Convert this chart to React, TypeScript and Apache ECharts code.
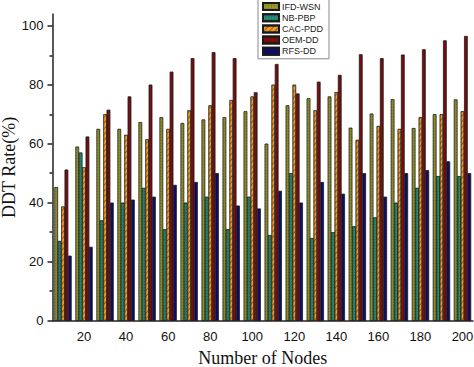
import React, { useEffect, useRef } from "react";
import * as echarts from "echarts";

const categories = ["10","20","30","40","50","60","70","80","90","100","110","120","130","140","150","160","170","180","190","200"];
const ifdWsn = [45.3, 59, 65, 65, 67.3, 69, 67, 68.2, 69, 71, 60, 73, 75.4, 76, 65.4, 70.2, 75.1, 65.3, 70, 75];
const nbPbp = [27, 57, 34, 40, 45, 31, 40, 42, 31, 42, 29, 50, 28, 30, 32, 35, 40, 45, 49, 49];
const cacPdd = [38.7, 52, 70, 63, 61.5, 65, 71.3, 73, 74.8, 76, 80, 80, 71.3, 77.5, 61.3, 66, 65, 69, 70, 71];
const oemDd = [51.2, 62.4, 71.5, 76, 80, 84.4, 89, 91, 89, 77.4, 87, 77, 81, 83.3, 90.3, 89, 90.2, 92, 95, 96.5];
const rfsDd = [22, 25, 40, 41, 42, 46, 47, 50, 39, 38, 44, 40, 47, 43, 50, 42, 50, 51, 54, 50];
const seriesNames = ["IFD-WSN", "NB-PBP", "CAC-PDD", "OEM-DD", "RFS-DD"];
const yMajor = [0, 20, 40, 60, 80, 100];
const yMinor = [10, 30, 50, 70, 90];

export default function App() {
  const ref = useRef<HTMLDivElement>(null);
  useEffect(() => {
    if (!ref.current) return;
    const chart = echarts.init(ref.current, undefined, { renderer: "svg" });
    const sans = "Liberation Sans, Arial, sans-serif";
    const serif = "Liberation Serif, Times New Roman, serif";
    const axisColor = "#222";
    const data = [ifdWsn, nbPbp, cacPdd, oemDd, rfsDd];
    const colors = ["#8a8a24", "#1f8066", "#ec9a2c", "#7e0c0c", "#0d0d6a"];
    const decals: any[] = [
      { symbol: "rect", color: "rgba(225,225,90,0.7)", symbolSize: 0.6, dashArrayX: [2, 1], dashArrayY: [2, 1], rotation: 0 },
      { symbol: "circle", color: "rgba(60,200,180,0.7)", symbolSize: 0.7, dashArrayX: [2, 1], dashArrayY: [2, 1], rotation: 0 },
      { symbol: "rect", color: "rgba(90,40,0,0.55)", symbolSize: 1, dashArrayX: [1, 0], dashArrayY: [1, 3], rotation: -Math.PI / 4 },
      { symbol: "rect", color: "rgba(60,0,0,0.4)", symbolSize: 0.5, dashArrayX: [2, 2], dashArrayY: [2, 2], rotation: 0 },
      { symbol: "none" },
    ];
    chart.setOption({
      animation: false,
      aria: { enabled: false, decal: { show: true } },
      grid: { left: 52.5, right: 1, top: 14, bottom: 46.3, containLabel: false, outerBoundsMode: "none" },
      legend: {
        orient: "vertical",
        left: 258,
        top: -1,
        itemWidth: 16,
        itemHeight: 7,
        itemGap: 2.2,
        padding: [3, 6, 3, 4],
        borderColor: "#888",
        borderWidth: 1,
        backgroundColor: "#fff",
        icon: "rect",
        textStyle: { fontFamily: sans, fontSize: 9, color: "#222", padding: [0, 0, 0, -2] },
        data: seriesNames,
      },
      xAxis: [
        {
          type: "category",
          data: categories,
          position: "bottom",
          axisLine: { lineStyle: { color: axisColor, width: 1.5 } },
          axisTick: { alignWithLabel: true, interval: (i: number) => i % 2 === 1, length: 6, lineStyle: { color: axisColor, width: 1.5 } },
          axisLabel: { interval: (i: number) => i % 2 === 1, fontFamily: sans, fontSize: 13, color: "#111", margin: 9 },
          name: "Number of Nodes",
          nameLocation: "middle",
          nameGap: 28,
          nameMoveOverlap: false,
          nameTextStyle: { fontFamily: serif, fontSize: 18, color: "#111", lineHeight: 18 },
          splitLine: { show: false },
        },
        {
          type: "category",
          data: categories,
          position: "bottom",
          axisLine: { show: false },
          axisTick: { alignWithLabel: true, interval: (i: number) => i % 2 === 0, length: 3.5, lineStyle: { color: axisColor, width: 1.5 } },
          axisLabel: { show: false },
          splitLine: { show: false },
        },
      ],
      yAxis: [
        {
          type: "value",
          min: 0,
          max: 104,
          position: "left",
          axisLine: { show: true, lineStyle: { color: axisColor, width: 1.5 } },
          axisTick: { show: true, inside: false, length: 5, customValues: yMajor, lineStyle: { color: axisColor, width: 1.5 } },
          axisLabel: { customValues: yMajor, fontFamily: sans, fontSize: 13, color: "#111", margin: 9 },
          splitLine: { show: false },
          name: "DDT Rate(%)",
          nameLocation: "middle",
          nameGap: 35,
          nameMoveOverlap: false,
          nameTextStyle: { fontFamily: serif, fontSize: 18, color: "#111", lineHeight: 18 },
        },
        {
          type: "value",
          min: 0,
          max: 104,
          position: "left",
          axisLine: { show: false },
          axisTick: { show: true, length: 3, customValues: yMinor, lineStyle: { color: axisColor, width: 1.5 } },
          axisLabel: { show: false },
          splitLine: { show: false },
        },
      ],
      series: seriesNames.map((name, k) => ({
        name,
        type: "bar",
        xAxisIndex: 0,
        yAxisIndex: 0,
        data: data[k],
        barGap: "0%",
        barCategoryGap: "19%",
        itemStyle: { color: colors[k], borderColor: "#1a1a1a", borderWidth: 0.5, decal: decals[k] },
      })),
    });
    return () => chart.dispose();
  }, []);
  return <div ref={ref} style={{ width: 474, height: 367, position: "absolute", left: 0, top: 0, background: "#fff" }} />;
}
